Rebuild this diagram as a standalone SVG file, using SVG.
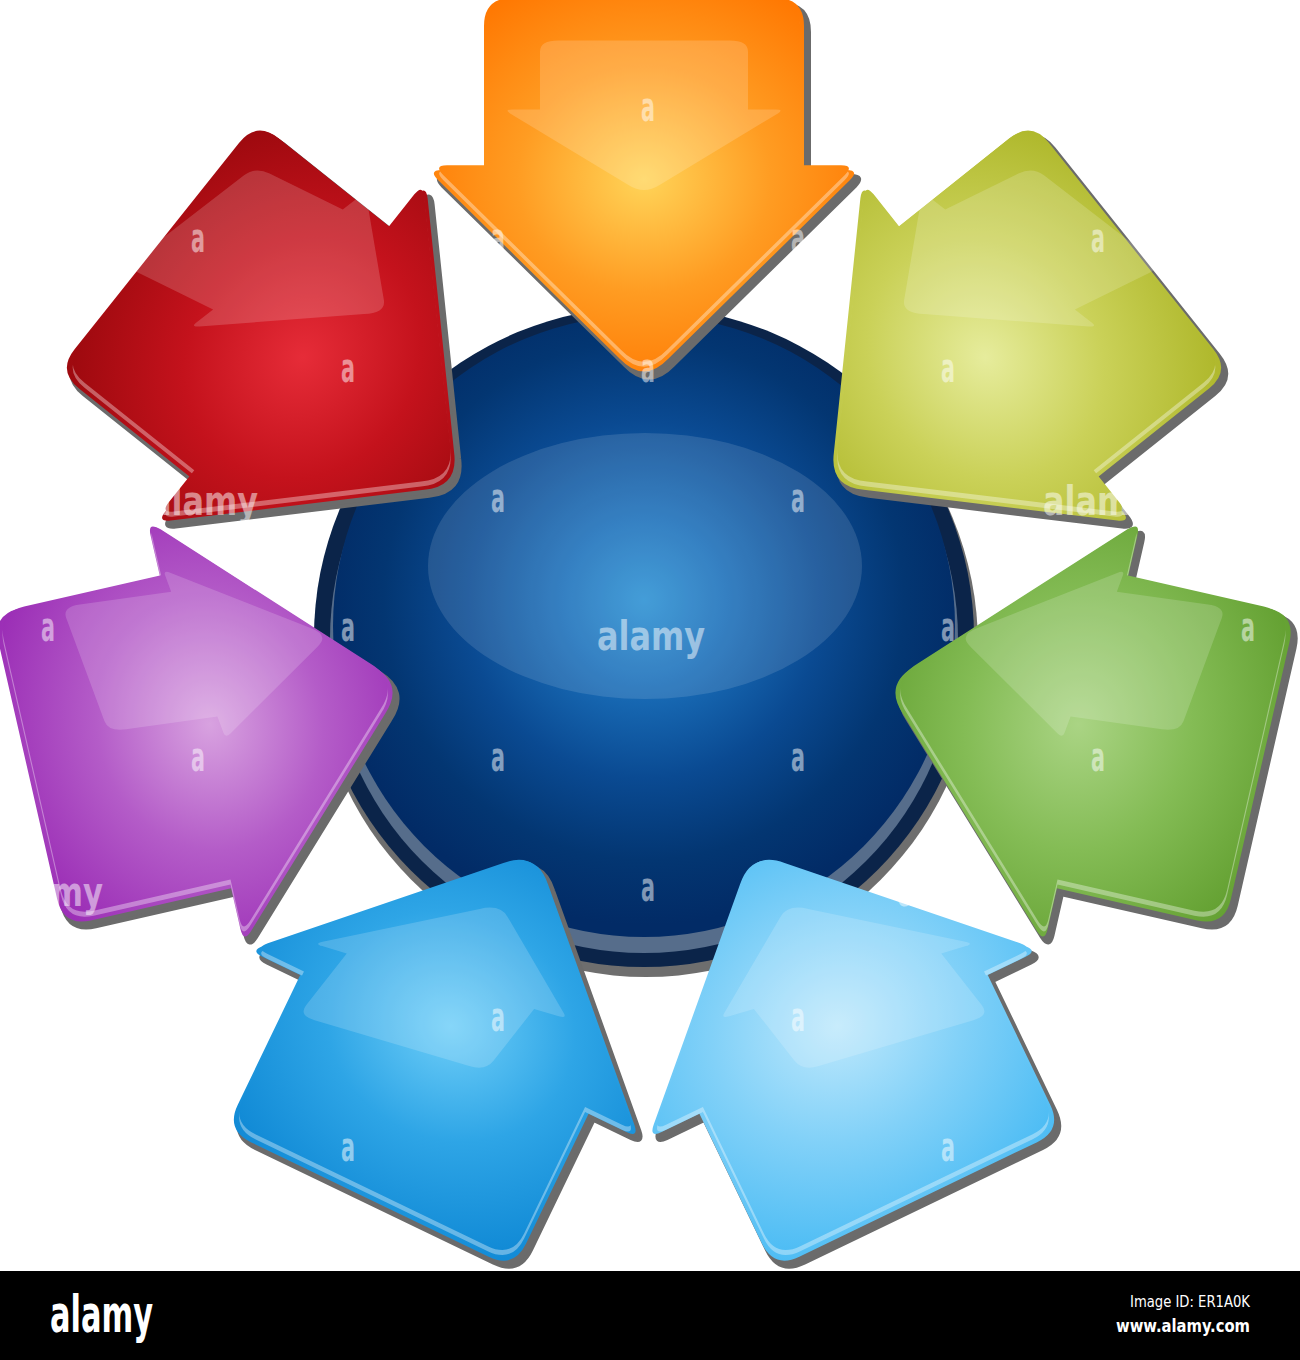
<svg xmlns="http://www.w3.org/2000/svg" xmlns:xlink="http://www.w3.org/1999/xlink" width="1300" height="1360" viewBox="0 0 1300 1360">
<style>
.sh{fill:#6B6B6B;stroke:#6B6B6B;stroke-width:4;stroke-linejoin:round}
.rim{fill:#FFFFFF;fill-opacity:.35}
.hl{fill:#FFFFFF;fill-opacity:.17}
.wm{font-family:'DejaVu Sans Condensed','DejaVu Sans','Liberation Sans',sans-serif;font-weight:bold;fill:#FFFFFF;fill-opacity:.5;text-anchor:middle}
.ft{font-family:'DejaVu Sans Condensed','DejaVu Sans','Liberation Sans',sans-serif;fill:#FFFFFF}
</style>
<defs>
<path id="arr" d="M -132,-632 L 132,-632 Q 160,-632 160,-604 L 160,-460 L 202,-460 Q 216,-460 206,-450 L 24,-271 Q 0,-246 -24,-271 L -206,-450 Q -216,-460 -202,-460 L -160,-460 L -160,-604 Q -160,-632 -132,-632 Z"/>
<radialGradient id="gO" cx=".5" cy=".5" r=".62"><stop offset="0" stop-color="#FFD458"/><stop offset=".5" stop-color="#FF9C22"/><stop offset="1" stop-color="#FF7600"/></radialGradient>
<radialGradient id="gR" cx=".5" cy=".5" r=".62"><stop offset="0" stop-color="#E62C38"/><stop offset=".5" stop-color="#C4121C"/><stop offset="1" stop-color="#9C090E"/></radialGradient>
<radialGradient id="gL" cx=".5" cy=".5" r=".62"><stop offset="0" stop-color="#E6EC9C"/><stop offset=".5" stop-color="#CAD158"/><stop offset="1" stop-color="#AEB72A"/></radialGradient>
<radialGradient id="gG" cx=".5" cy=".5" r=".62"><stop offset="0" stop-color="#AAD484"/><stop offset=".5" stop-color="#84BC55"/><stop offset="1" stop-color="#63A031"/></radialGradient>
<radialGradient id="gLB" cx=".5" cy=".5" r=".62"><stop offset="0" stop-color="#BDE8FC"/><stop offset=".5" stop-color="#82D1F8"/><stop offset="1" stop-color="#4CBCF4"/></radialGradient>
<radialGradient id="gB" cx=".5" cy=".5" r=".62"><stop offset="0" stop-color="#6ECEF8"/><stop offset=".5" stop-color="#2EA5E6"/><stop offset="1" stop-color="#1089D5"/></radialGradient>
<radialGradient id="gP" cx=".5" cy=".5" r=".62"><stop offset="0" stop-color="#D8A2E0"/><stop offset=".5" stop-color="#B45CC8"/><stop offset="1" stop-color="#9A2CB5"/></radialGradient>
<radialGradient id="gC" gradientUnits="userSpaceOnUse" cx="644" cy="600" r="325"><stop offset="0" stop-color="#2A90D3"/><stop offset=".25" stop-color="#1A6FBA"/><stop offset=".55" stop-color="#0A4A92"/><stop offset=".8" stop-color="#033672"/><stop offset="1" stop-color="#022B66"/></radialGradient>
</defs>
<rect x="0" y="0" width="1300" height="1360" fill="#FFFFFF"/>

<g id="center-circle">
<circle cx="646" cy="645" r="332" fill="#6E6E6E"/>
<circle cx="644" cy="637" r="330" fill="#0B2449"/>
<circle cx="644" cy="639" r="314" fill="#566D8B"/>
<circle cx="644" cy="626" r="311" fill="url(#gC)"/>
<ellipse cx="645" cy="566" rx="217" ry="133" fill="#FFFFFF" fill-opacity=".12"/>
</g>

<g id="connectors"></g>

<g id="arrow-red">
<use href="#arr" class="sh" transform="translate(5,6) translate(651,640) rotate(308.571)"/>
<use href="#arr" fill="url(#gR)" transform="translate(651,640) rotate(308.571)"/>
<use href="#arr" class="rim" transform="translate(651,640) rotate(308.571) translate(0,-450) scale(0.975) translate(0,450)"/>
<use href="#arr" fill="url(#gR)" transform="translate(0,-5) translate(651,640) rotate(308.571) translate(0,-450) scale(0.975) translate(0,450)"/>
<use href="#arr" class="hl" transform="translate(253,197) scale(.65,.4) translate(-253,-197) translate(651,640) rotate(308.571)"/>
</g>

<g id="arrow-orange">
<use href="#arr" class="sh" transform="translate(5,6) translate(644,630)"/>
<use href="#arr" fill="url(#gO)" transform="translate(644,630)"/>
<use href="#arr" class="rim" transform="translate(644,630) translate(0,-450) scale(0.975) translate(0,450)"/>
<use href="#arr" fill="url(#gO)" transform="translate(0,-5) translate(644,630) translate(0,-450) scale(0.975) translate(0,450)"/>
<use href="#arr" class="hl" transform="translate(644,69) scale(.65,.4) translate(-644,-69) translate(644,630)"/>
</g>

<g id="arrow-lime">
<use href="#arr" class="sh" transform="translate(5,6) translate(637,640) rotate(51.429)"/>
<use href="#arr" fill="url(#gL)" transform="translate(637,640) rotate(51.429)"/>
<use href="#arr" class="rim" transform="translate(637,640) rotate(51.429) translate(0,-450) scale(0.975) translate(0,450)"/>
<use href="#arr" fill="url(#gL)" transform="translate(0,-5) translate(637,640) rotate(51.429) translate(0,-450) scale(0.975) translate(0,450)"/>
<use href="#arr" class="hl" transform="translate(1035,197) scale(.65,.4) translate(-1035,-197) translate(637,640) rotate(51.429)"/>
</g>

<g id="arrow-green">
<use href="#arr" class="sh" transform="translate(5,6) translate(644,630) rotate(102.857)"/>
<use href="#arr" fill="url(#gG)" transform="translate(644,630) rotate(102.857)"/>
<use href="#arr" class="rim" transform="translate(644,630) rotate(102.857) translate(0,-450) scale(0.975) translate(0,450)"/>
<use href="#arr" fill="url(#gG)" transform="translate(0,-5) translate(644,630) rotate(102.857) translate(0,-450) scale(0.975) translate(0,450)"/>
<use href="#arr" class="hl" transform="translate(1096,602) scale(.65,.4) translate(-1096,-602) translate(644,630) rotate(102.857)"/>
</g>

<g id="arrow-purple">
<use href="#arr" class="sh" transform="translate(5,6) translate(644,630) rotate(257.143)"/>
<use href="#arr" fill="url(#gP)" transform="translate(644,630) rotate(257.143)"/>
<use href="#arr" class="rim" transform="translate(644,630) rotate(257.143) translate(0,-450) scale(0.975) translate(0,450)"/>
<use href="#arr" fill="url(#gP)" transform="translate(0,-5) translate(644,630) rotate(257.143) translate(0,-450) scale(0.975) translate(0,450)"/>
<use href="#arr" class="hl" transform="translate(192,602) scale(.65,.4) translate(-192,-602) translate(644,630) rotate(257.143)"/>
</g>

<g id="arrow-blue">
<use href="#arr" class="sh" transform="translate(5,6) translate(644,630) rotate(205.714)"/>
<use href="#arr" fill="url(#gB)" transform="translate(644,630) rotate(205.714)"/>
<use href="#arr" class="rim" transform="translate(644,630) rotate(205.714) translate(0,-450) scale(0.975) translate(0,450)"/>
<use href="#arr" fill="url(#gB)" transform="translate(0,-5) translate(644,630) rotate(205.714) translate(0,-450) scale(0.975) translate(0,450)"/>
<use href="#arr" class="hl" transform="translate(433,939) scale(.65,.4) translate(-433,-939) translate(644,630) rotate(205.714)"/>
</g>

<g id="arrow-lightblue">
<use href="#arr" class="sh" transform="translate(5,6) translate(644,630) rotate(154.286)"/>
<use href="#arr" fill="url(#gLB)" transform="translate(644,630) rotate(154.286)"/>
<use href="#arr" class="rim" transform="translate(644,630) rotate(154.286) translate(0,-450) scale(0.975) translate(0,450)"/>
<use href="#arr" fill="url(#gLB)" transform="translate(0,-5) translate(644,630) rotate(154.286) translate(0,-450) scale(0.975) translate(0,450)"/>
<use href="#arr" class="hl" transform="translate(855,939) scale(.65,.4) translate(-855,-939) translate(644,630) rotate(154.286)"/>
</g>

<g id="watermark" font-size="40">
<text class="wm" x="648" y="121" textLength="14" lengthAdjust="spacingAndGlyphs">a</text>
<text class="wm" x="198" y="252" textLength="14" lengthAdjust="spacingAndGlyphs">a</text>
<text class="wm" x="498" y="252" textLength="14" lengthAdjust="spacingAndGlyphs">a</text>
<text class="wm" x="798" y="252" textLength="14" lengthAdjust="spacingAndGlyphs">a</text>
<text class="wm" x="1098" y="252" textLength="14" lengthAdjust="spacingAndGlyphs">a</text>
<text class="wm" x="348" y="382" textLength="14" lengthAdjust="spacingAndGlyphs">a</text>
<text class="wm" x="648" y="382" textLength="14" lengthAdjust="spacingAndGlyphs">a</text>
<text class="wm" x="948" y="382" textLength="14" lengthAdjust="spacingAndGlyphs">a</text>
<text class="wm" x="204" y="515" textLength="108" lengthAdjust="spacingAndGlyphs">alamy</text>
<text class="wm" x="498" y="512" textLength="14" lengthAdjust="spacingAndGlyphs">a</text>
<text class="wm" x="798" y="512" textLength="14" lengthAdjust="spacingAndGlyphs">a</text>
<text class="wm" x="1097" y="515" textLength="108" lengthAdjust="spacingAndGlyphs">alamy</text>
<text class="wm" x="48" y="641" textLength="14" lengthAdjust="spacingAndGlyphs">a</text>
<text class="wm" x="348" y="641" textLength="14" lengthAdjust="spacingAndGlyphs">a</text>
<text class="wm" x="651" y="650" textLength="108" lengthAdjust="spacingAndGlyphs">alamy</text>
<text class="wm" x="948" y="641" textLength="14" lengthAdjust="spacingAndGlyphs">a</text>
<text class="wm" x="1248" y="641" textLength="14" lengthAdjust="spacingAndGlyphs">a</text>
<text class="wm" x="198" y="771" textLength="14" lengthAdjust="spacingAndGlyphs">a</text>
<text class="wm" x="498" y="771" textLength="14" lengthAdjust="spacingAndGlyphs">a</text>
<text class="wm" x="798" y="771" textLength="14" lengthAdjust="spacingAndGlyphs">a</text>
<text class="wm" x="1098" y="771" textLength="14" lengthAdjust="spacingAndGlyphs">a</text>
<text class="wm" x="77" y="906" textLength="52" lengthAdjust="spacingAndGlyphs">my</text>
<text class="wm" x="648" y="901" textLength="14" lengthAdjust="spacingAndGlyphs">a</text>
<text class="wm" x="951" y="906" textLength="108" lengthAdjust="spacingAndGlyphs">alamy</text>
<text class="wm" x="498" y="1031" textLength="14" lengthAdjust="spacingAndGlyphs">a</text>
<text class="wm" x="798" y="1031" textLength="14" lengthAdjust="spacingAndGlyphs">a</text>
<text class="wm" x="348" y="1161" textLength="14" lengthAdjust="spacingAndGlyphs">a</text>
<text class="wm" x="648" y="1161" textLength="14" lengthAdjust="spacingAndGlyphs">a</text>
<text class="wm" x="948" y="1161" textLength="14" lengthAdjust="spacingAndGlyphs">a</text>
</g>

<g id="footer">
<rect x="0" y="1271" width="1300" height="89" fill="#000000"/>
<text class="ft" x="50" y="1332" font-size="52" font-weight="bold" textLength="103" lengthAdjust="spacingAndGlyphs">alamy</text>
<text class="ft" x="1250" y="1307" font-size="15" text-anchor="end" fill="#DDDDDD" textLength="120" lengthAdjust="spacingAndGlyphs">Image ID: ER1A0K</text>
<text class="ft" x="1250" y="1332" font-size="18" font-weight="bold" text-anchor="end" textLength="134" lengthAdjust="spacingAndGlyphs">www.alamy.com</text>
</g>
</svg>
